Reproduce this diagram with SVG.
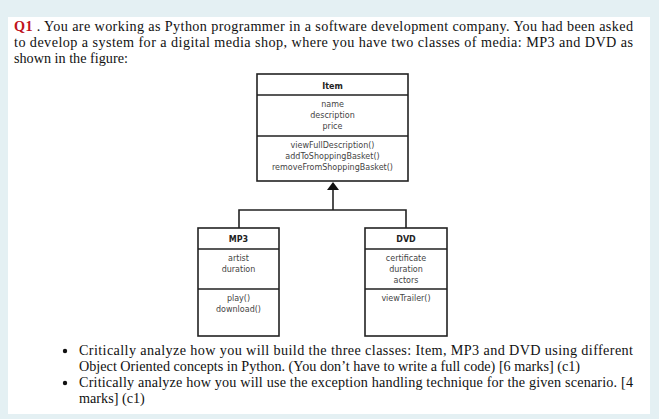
<svg xmlns="http://www.w3.org/2000/svg" width="659" height="419" viewBox="0 0 659 419">
<style>
.t{font-family:"Liberation Serif",serif;font-size:14.2px;fill:#111}
.b{fill:#fff;stroke:#222;stroke-width:1.6}
.l{stroke:#222;stroke-width:1.6;fill:none}
.s{font-family:"DejaVu Sans",sans-serif;font-size:8px;fill:#444;text-anchor:middle}
.h{font-family:"DejaVu Sans",sans-serif;font-size:8px;font-weight:bold;fill:#222;text-anchor:middle}
</style>
<rect width="659" height="419" fill="#e4f0f3"/>
<rect x="8" y="17" width="642" height="397" fill="#fff"/>
<text class="t" x="14" y="31" textLength="619" lengthAdjust="spacing"><tspan fill="#c0141c" font-weight="bold">Q1</tspan>  . You are working as Python programmer in a software development company. You had been asked</text>
<text class="t" x="14" y="47" textLength="619" lengthAdjust="spacing">to develop a system for a digital media shop, where you have two classes of media: MP3 and DVD as</text>
<text class="t" x="14" y="63">shown in the figure:</text>
<g id="connectors">
<path class="l" d="M239,228 V210 H406 V228"/>
<path class="l" d="M333,210 V189"/>
<path d="M327,190 L333,182 L339,190 Z" fill="#111"/>
</g>
<g id="item">
<rect class="b" x="257" y="74" width="151" height="107"/>
<path class="l" d="M257,95 H408 M257,136 H408"/>
<text class="h" x="332.5" y="89">Item</text>
<text class="s" x="332.5" y="107">name</text>
<text class="s" x="332.5" y="118">description</text>
<text class="s" x="332.5" y="129">price</text>
<text class="s" x="332.5" y="148">viewFullDescription()</text>
<text class="s" x="332.5" y="159">addToShoppingBasket()</text>
<text class="s" x="332.5" y="170">removeFromShoppingBasket()</text>
</g>
<g id="mp3">
<rect class="b" x="198" y="228" width="81" height="108"/>
<path class="l" d="M198,249 H279 M198,289 H279"/>
<text class="h" x="238.5" y="242">MP3</text>
<text class="s" x="238.5" y="261">artist</text>
<text class="s" x="238.5" y="272">duration</text>
<text class="s" x="238.5" y="301">play()</text>
<text class="s" x="238.5" y="312">download()</text>
</g>
<g id="dvd">
<rect class="b" x="365" y="228" width="82" height="108"/>
<path class="l" d="M365,249 H447 M365,289 H447"/>
<text class="h" x="406" y="242">DVD</text>
<text class="s" x="406" y="261">certificate</text>
<text class="s" x="406" y="272">duration</text>
<text class="s" x="406" y="283">actors</text>
<text class="s" x="406" y="301">viewTrailer()</text>
</g>
<circle cx="65" cy="351" r="2.2" fill="#111"/>
<circle cx="65" cy="383" r="2.2" fill="#111"/>
<text class="t" x="79" y="355" textLength="554" lengthAdjust="spacing">Critically analyze how you will build the three classes: Item, MP3 and DVD using different</text>
<text class="t" x="79" y="371">Object Oriented concepts in Python. (You don’t have to write a full code) [6 marks] (c1)</text>
<text class="t" x="79" y="387" textLength="554" lengthAdjust="spacing">Critically analyze how you will use the exception handling technique for the given scenario. [4</text>
<text class="t" x="79" y="403">marks]  (c1)</text>
</svg>
